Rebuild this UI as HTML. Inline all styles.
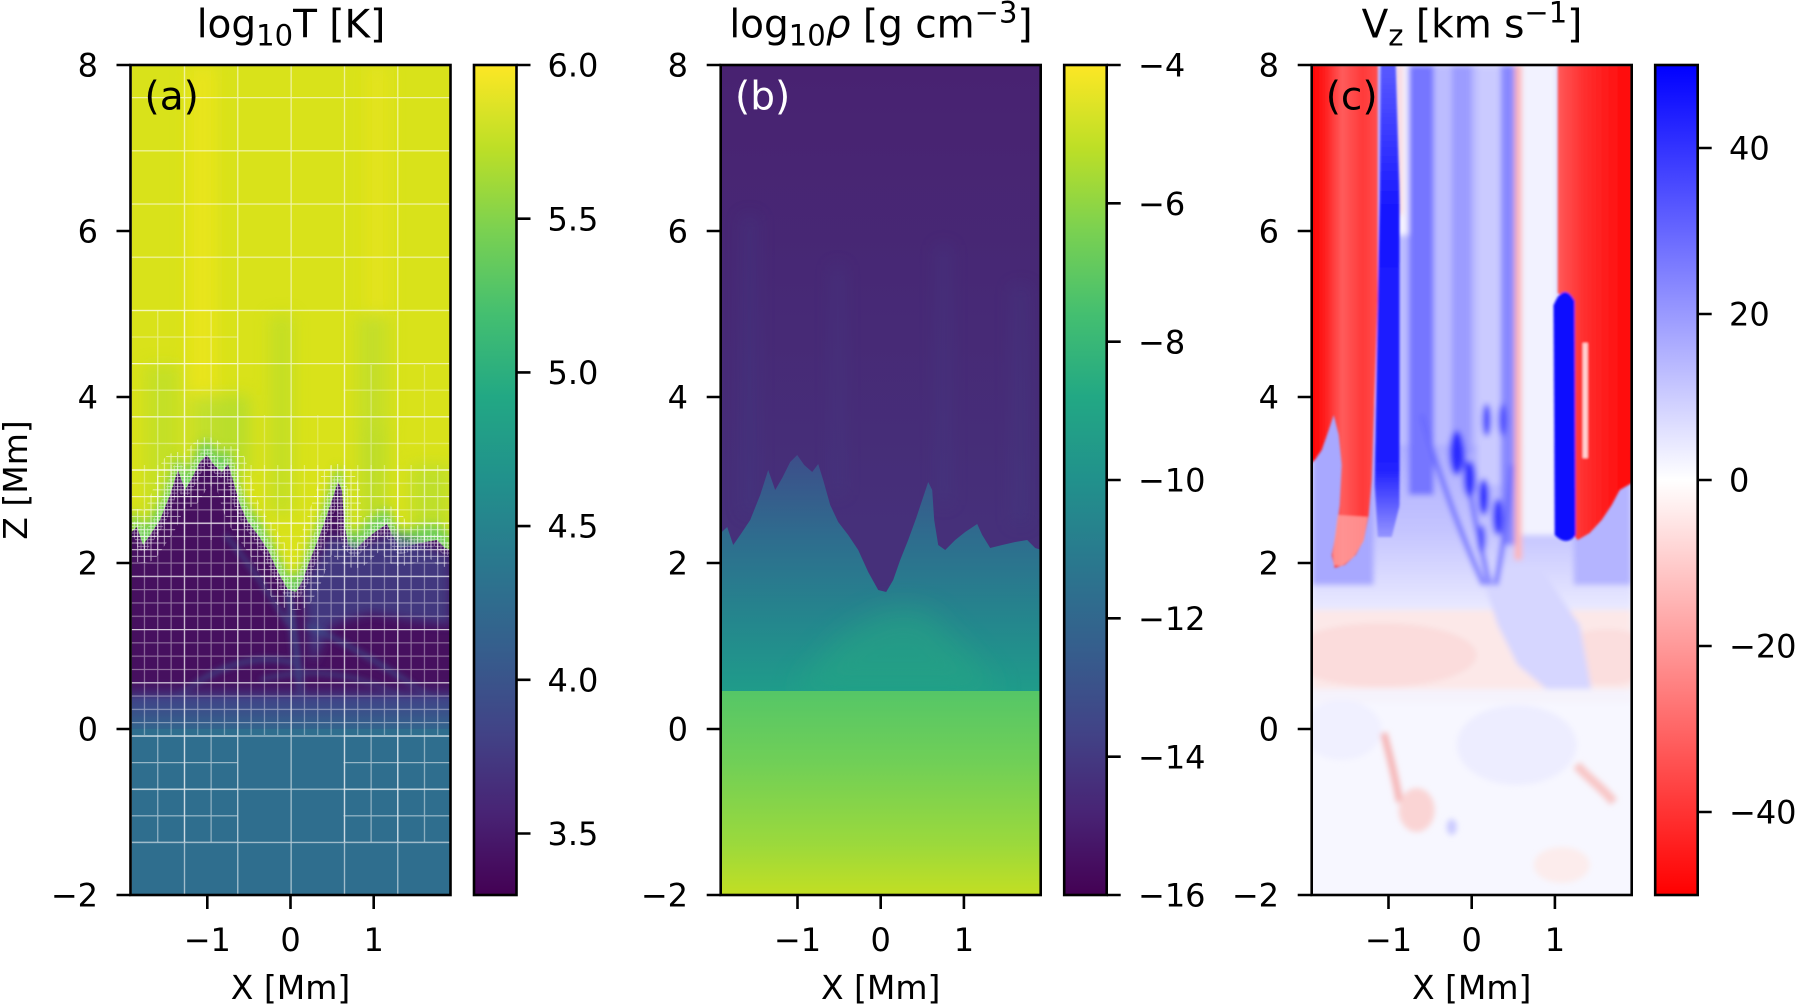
<!DOCTYPE html>
<html><head><meta charset="utf-8"><style>
html,body{margin:0;padding:0;background:#fff;}
svg{display:block;}
text{font-family:"DejaVu Sans","Liberation Sans",sans-serif;fill:#000;}
</style></head><body>
<svg width="1796" height="1006" viewBox="0 0 1796 1006" xmlns="http://www.w3.org/2000/svg">
<defs>
 <clipPath id="clip"><rect x="0" y="0" width="320" height="830"/></clipPath>
 <linearGradient id="vir" x1="0" y1="0" x2="0" y2="1">
  <stop offset="0" stop-color="#fde725"/><stop offset="0.1" stop-color="#bddf26"/>
  <stop offset="0.2" stop-color="#7ad151"/><stop offset="0.3" stop-color="#44bf70"/>
  <stop offset="0.4" stop-color="#22a884"/><stop offset="0.5" stop-color="#21918c"/>
  <stop offset="0.6" stop-color="#2a788e"/><stop offset="0.7" stop-color="#355f8d"/>
  <stop offset="0.8" stop-color="#414487"/><stop offset="0.9" stop-color="#482475"/>
  <stop offset="1" stop-color="#440154"/>
 </linearGradient>
 <linearGradient id="bwr" x1="0" y1="0" x2="0" y2="1">
  <stop offset="0" stop-color="#0000ff"/><stop offset="0.5" stop-color="#ffffff"/><stop offset="1" stop-color="#ff0000"/>
 </linearGradient>
 <linearGradient id="aBand" gradientUnits="userSpaceOnUse" x1="0" y1="612" x2="0" y2="668">
  <stop offset="0" stop-color="#46105f" stop-opacity="0"/><stop offset="0.4" stop-color="#404387"/><stop offset="1" stop-color="#30698e"/>
 </linearGradient>
 <linearGradient id="bTop" gradientUnits="userSpaceOnUse" x1="0" y1="0" x2="0" y2="470">
  <stop offset="0" stop-color="#482271"/><stop offset="1" stop-color="#46307a"/>
 </linearGradient>
 <linearGradient id="bMid" gradientUnits="userSpaceOnUse" x1="0" y1="390" x2="0" y2="630">
  <stop offset="0" stop-color="#3d4e8a"/><stop offset="0.35" stop-color="#2e6d8e"/>
  <stop offset="0.7" stop-color="#24878d"/><stop offset="1" stop-color="#1f9d8a"/>
 </linearGradient>
 <linearGradient id="bLow" gradientUnits="userSpaceOnUse" x1="0" y1="626" x2="0" y2="830">
  <stop offset="0" stop-color="#55c667"/><stop offset="0.35" stop-color="#70cf57"/>
  <stop offset="0.75" stop-color="#9bd93c"/><stop offset="1" stop-color="#c2df23"/>
 </linearGradient>
 <linearGradient id="cFade" gradientUnits="userSpaceOnUse" x1="0" y1="380" x2="0" y2="550">
  <stop offset="0" stop-color="#aeaeff"/><stop offset="0.5" stop-color="#c4c4ff"/><stop offset="1" stop-color="#ececff"/>
 </linearGradient>
 <linearGradient id="cRedL" gradientUnits="userSpaceOnUse" x1="0" y1="0" x2="68" y2="0">
  <stop offset="0" stop-color="#ff0000"/><stop offset="0.2" stop-color="#ff2020"/>
  <stop offset="0.45" stop-color="#ff5c5c"/><stop offset="0.75" stop-color="#ff3a3a"/><stop offset="1" stop-color="#ff5050"/>
 </linearGradient>
 <linearGradient id="cRedR" gradientUnits="userSpaceOnUse" x1="246" y1="0" x2="320" y2="0">
  <stop offset="0" stop-color="#ff5a5a"/><stop offset="0.35" stop-color="#ff3030"/><stop offset="1" stop-color="#ff0505"/>
 </linearGradient>
 <linearGradient id="cBlue" gradientUnits="userSpaceOnUse" x1="0" y1="0" x2="0" y2="475">
  <stop offset="0" stop-color="#5a5aff"/><stop offset="0.3" stop-color="#1818ff"/>
  <stop offset="0.85" stop-color="#2020ff"/><stop offset="1" stop-color="#9a9aff"/>
 </linearGradient>
 <filter id="b1" x="-10%" y="-10%" width="120%" height="120%"><feGaussianBlur stdDeviation="1"/></filter>
 <filter id="b3" x="-10%" y="-10%" width="120%" height="120%"><feGaussianBlur stdDeviation="3"/></filter>
 <filter id="b5" x="-20%" y="-20%" width="140%" height="140%"><feGaussianBlur stdDeviation="5"/></filter>
 <filter id="b8" x="-30%" y="-30%" width="160%" height="160%"><feGaussianBlur stdDeviation="8"/></filter>
 <filter id="b14" x="-50%" y="-50%" width="200%" height="200%"><feGaussianBlur stdDeviation="14"/></filter>
 <pattern id="g1" patternUnits="userSpaceOnUse" x="0" y="32" width="53.333" height="53.2">
  <path d="M0,0.6H53.4M0.6,0V53.3" stroke="#fff" stroke-width="1.3" fill="none"/></pattern>
 <pattern id="g2" patternUnits="userSpaceOnUse" x="0" y="5.4" width="26.667" height="26.6">
  <path d="M0,0.6H26.7M0.6,0V26.7" stroke="#fff" stroke-width="1.2" fill="none"/></pattern>
 <pattern id="g4" patternUnits="userSpaceOnUse" x="0" y="5.4" width="13.333" height="13.3">
  <path d="M0,0.6H13.4M0.6,0V13.4" stroke="#fff" stroke-width="1.1" fill="none"/></pattern>
 <pattern id="g8" patternUnits="userSpaceOnUse" x="0" y="5.4" width="6.667" height="6.65">
  <path d="M0,0.5H6.7M0.5,0V6.7" stroke="#fff" stroke-width="1" fill="none"/></pattern>
 <pattern id="g16" patternUnits="userSpaceOnUse" x="0" y="5.4" width="3.333" height="3.325">
  <path d="M0,0.5H3.4M0.5,0V3.4" stroke="#fff" stroke-width="0.9" fill="none"/></pattern>
</defs>

<!-- ================= Panel (a) ================= -->
<g transform="translate(130.5,65)"><g clip-path="url(#clip)">
 <rect width="320" height="830" fill="#d9e21a"/>
 <g filter="url(#b8)">
  <rect x="58" y="0" width="28" height="420" fill="#f0e51d" opacity=".7"/>
  <rect x="236" y="0" width="22" height="360" fill="#ebe51c" opacity=".6"/>
  <rect x="140" y="250" width="22" height="200" fill="#a8db34" opacity=".45"/>
  <rect x="228" y="250" width="30" height="220" fill="#a0da39" opacity=".45"/>
  <rect x="15" y="300" width="35" height="170" fill="#b0dd2f" opacity=".5"/>
  <rect x="60" y="330" width="60" height="80" fill="#9ad93c" opacity=".5"/>
  <rect x="280" y="400" width="40" height="80" fill="#a5db36" opacity=".5"/>
 </g>
 <polygon transform="translate(0,-16)" filter="url(#b5)" fill="#6ece58" points="0,468 6.5,462 12.5,480 19.5,470 29.5,455 39.5,430 47.5,405 54.5,425 61.5,413 69.5,397 76.5,390 83.5,400 91.5,407 97.5,399 102.5,415 109.5,440 117.5,457 127.5,470 137.5,485 147.5,507 157.5,525 165.5,527 172.5,515 179.5,495 187.5,475 195.5,453 202.5,432 207.5,417 211.5,425 213.5,455 217.5,480 224.5,485 234.5,475 244.5,467 256.5,459 261.5,470 269.5,483 281.5,480 294.5,477 306.5,475 314.5,483 320.5,485 320.5,640 0,640"/>
 <polygon fill="#46105f" points="0,468 6.5,462 12.5,480 19.5,470 29.5,455 39.5,430 47.5,405 54.5,425 61.5,413 69.5,397 76.5,390 83.5,400 91.5,407 97.5,399 102.5,415 109.5,440 117.5,457 127.5,470 137.5,485 147.5,507 157.5,525 165.5,527 172.5,515 179.5,495 187.5,475 195.5,453 202.5,432 207.5,417 211.5,425 213.5,455 217.5,480 224.5,485 234.5,475 244.5,467 256.5,459 261.5,470 269.5,483 281.5,480 294.5,477 306.5,475 314.5,483 320.5,485 320.5,640 0,640"/>
 <polygon filter="url(#b5)" fill="#433f85" opacity=".85" points="172,522 200,470 230,482 260,468 320,490 320,560 280,555 240,548 200,560 182,600"/>
 <g filter="url(#b3)" fill="none" stroke="#3c508b" opacity=".7">
  <path d="M158,525 C163,570 168,600 172,650" stroke-width="8"/>
  <path d="M40,640 C80,600 130,585 170,600" stroke-width="5"/>
  <path d="M176,560 C220,580 262,605 310,640" stroke-width="5"/>
  <path d="M95,470 C120,500 140,530 158,560" stroke-width="4"/>
  <path d="M130,615 C180,600 230,610 270,632" stroke-width="4"/>
 </g>
 <rect x="0" y="612" width="320" height="56" fill="url(#aBand)"/>
 <rect x="0" y="664" width="320" height="166" fill="#2f6e8e"/>
 <rect width="320" height="830" fill="url(#g1)" opacity=".6"/>
 <rect x="0" y="245" width="107" height="230" fill="url(#g2)" opacity=".4"/>
 <rect x="213" y="300" width="107" height="175" fill="url(#g2)" opacity=".35"/>
 <rect x="107" y="350" width="106" height="125" fill="url(#g2)" opacity=".3"/>
 <rect x="0" y="400" width="320" height="270" fill="url(#g4)" opacity=".42"/>
 <rect x="0" y="670" width="107" height="107" fill="url(#g2)" opacity=".5"/>
 <rect x="213" y="670" width="107" height="107" fill="url(#g2)" opacity=".5"/>
 <polyline fill="none" stroke="url(#g8)" stroke-width="36" stroke-linejoin="round" opacity=".6" points="0,468 6.5,462 12.5,480 19.5,470 29.5,455 39.5,430 47.5,405 54.5,425 61.5,413 69.5,397 76.5,390 83.5,400 91.5,407 97.5,399 102.5,415 109.5,440 117.5,457 127.5,470 137.5,485 147.5,507 157.5,525 165.5,527 172.5,515 179.5,495 187.5,475 195.5,453 202.5,432 207.5,417 211.5,425 213.5,455 217.5,480 224.5,485 234.5,475 244.5,467 256.5,459 261.5,470 269.5,483 281.5,480 294.5,477 306.5,475 314.5,483 320.5,485"/>
 <polyline fill="none" stroke="url(#g16)" stroke-width="12" stroke-linejoin="round" opacity=".45" points="0,468 6.5,462 12.5,480 19.5,470 29.5,455 39.5,430 47.5,405 54.5,425 61.5,413 69.5,397 76.5,390 83.5,400 91.5,407 97.5,399 102.5,415 109.5,440 117.5,457 127.5,470 137.5,485 147.5,507 157.5,525 165.5,527 172.5,515 179.5,495 187.5,475 195.5,453 202.5,432 207.5,417 211.5,425 213.5,455 217.5,480 224.5,485 234.5,475 244.5,467 256.5,459 261.5,470 269.5,483 281.5,480 294.5,477 306.5,475 314.5,483 320.5,485"/>
</g></g>

<!-- ================= Panel (b) ================= -->
<g transform="translate(720.7,65)"><g clip-path="url(#clip)">
 <rect width="320" height="830" fill="url(#bTop)"/>
 <g filter="url(#b8)" opacity=".3">
  <rect x="20" y="150" width="18" height="300" fill="#433e84"/>
  <rect x="110" y="200" width="14" height="230" fill="#433e84"/>
  <rect x="215" y="180" width="16" height="260" fill="#433e84"/>
  <rect x="290" y="220" width="20" height="240" fill="#433e84"/>
 </g>
 <polygon fill="url(#bMid)" points="0,468 6.5,462 12.5,480 19.5,470 29.5,455 39.5,430 47.5,405 54.5,425 61.5,413 69.5,397 76.5,390 83.5,400 91.5,407 97.5,399 102.5,415 109.5,440 117.5,457 127.5,470 137.5,485 147.5,507 157.5,525 165.5,527 172.5,515 179.5,495 187.5,475 195.5,453 202.5,432 207.5,417 211.5,425 213.5,455 217.5,480 224.5,485 234.5,475 244.5,467 256.5,459 261.5,470 269.5,483 281.5,480 294.5,477 306.5,475 314.5,483 320.5,485 320.5,632 0,632"/>
 <polygon filter="url(#b14)" fill="#27ab81" opacity=".45" points="70,628 120,570 165,545 205,545 250,590 280,628"/>
 <rect x="0" y="626" width="320" height="204" fill="url(#bLow)"/>
</g></g>

<!-- ================= Panel (c) ================= -->
<g transform="translate(1311.7,65)"><g clip-path="url(#clip)">
 <rect width="320" height="830" fill="#f7f7ff"/>
 <g filter="url(#b3)">
  <rect x="60" y="0" width="190" height="420" fill="#bcbcff"/>
  <rect x="0" y="380" width="320" height="170" fill="url(#cFade)"/>
  <rect x="0" y="545" width="320" height="82" fill="#fce8e8"/>
  <ellipse cx="70" cy="590" rx="95" ry="32" fill="#fbdcdc"/>
  <ellipse cx="295" cy="592" rx="50" ry="28" fill="#fbdede"/>
  <polygon fill="#d6d6ff" points="168,505 232,508 268,560 280,626 242,630 206,600 186,560"/>
  <rect x="0" y="624" width="320" height="14" fill="#f5f3fc"/>
  <ellipse cx="30" cy="665" rx="40" ry="30" fill="#f0f0ff"/>
  <ellipse cx="205" cy="680" rx="60" ry="40" fill="#ededff"/>
  <path d="M72,668 C78,690 84,715 88,737" stroke="#f6b4b4" stroke-width="7" fill="none"/>
  <ellipse cx="105" cy="745" rx="18" ry="22" fill="#fad4d4"/>
  <ellipse cx="140" cy="762" rx="5" ry="8" fill="#cacaff"/>
  <path d="M265,700 C275,712 290,722 302,737" stroke="#f8c6c6" stroke-width="9" fill="none"/>
  <ellipse cx="250" cy="800" rx="28" ry="18" fill="#fcecec"/>
  <rect x="83" y="0" width="14" height="170" fill="#f4f2ff"/>
  <rect x="86" y="0" width="4" height="150" fill="#ffc8c8"/>
  <rect x="97" y="0" width="25" height="430" fill="#7676ff"/>
  <rect x="140" y="0" width="20" height="390" fill="#9c9cff"/>
  <rect x="166" y="0" width="23" height="420" fill="#cacaff"/>
  <rect x="189" y="0" width="14" height="480" fill="#8888ff"/>
  <rect x="203" y="0" width="7" height="495" fill="#ffb4b4"/>
  <rect x="210" y="0" width="36" height="470" fill="#f2f2ff"/>
  <g fill="none" stroke="#6a6aff" stroke-width="5">
   <path d="M110,350 C130,420 150,470 172,520"/>
   <path d="M150,380 C160,440 168,480 178,520"/>
   <path d="M200,400 C196,450 190,490 184,520"/>
  </g>
  <g filter="url(#b1)">
  <ellipse cx="145" cy="388" rx="7" ry="22" fill="#2a2aff"/>
  <ellipse cx="158" cy="414" rx="6" ry="18" fill="#3030ff"/>
  <ellipse cx="175" cy="355" rx="4" ry="16" fill="#4040ff"/>
  <ellipse cx="191" cy="355" rx="4" ry="16" fill="#4848ff"/>
  <ellipse cx="172" cy="432" rx="5" ry="18" fill="#2a2aff"/>
  <ellipse cx="186" cy="452" rx="5" ry="18" fill="#3434ff"/>
  <ellipse cx="170" cy="474" rx="4" ry="14" fill="#5050ff"/>
  </g>
  <rect x="0" y="340" width="62" height="180" fill="#a8a8ff"/>
  <rect x="262" y="400" width="58" height="120" fill="#b4b4ff"/>
 </g>
 <g filter="url(#b1)">
  <polygon fill="url(#cBlue)" points="69,0 84,0 88,135 88,300 88,440 80,472 66,472 63,420 66,235 68,135"/>
  <polygon fill="url(#cRedL)" points="0,0 66,0 66,235 60,415 57,450 52,475 44,490 33,500 23,503 20,490 24,470 28,440 30,400 27,370 22,350 17,365 10,385 3,395 0,398"/>
  <polygon fill="#ffa0a0" opacity=".8" points="26,450 56,452 52,476 42,492 30,501 22,500 21,488"/>
  <polygon fill="url(#cRedR)" points="246,0 320,0 320,418 308,425 300,440 290,455 278,468 266,475 262,470 262,240 246,228"/>
  <rect x="271" y="278" width="5" height="115" fill="#ffd0d0"/>
  <path d="M242,240 Q252,216 263,236 L264,470 Q255,482 243,470 Z" fill="#1010ff"/>
 </g>
</g></g>

<!-- ================= Frames ================= -->
<g fill="none" stroke="#000" stroke-width="2.6">
 <rect x="130.5" y="65" width="320" height="830"/>
 <rect x="720.7" y="65" width="320" height="830"/>
 <rect x="1311.7" y="65" width="320" height="830"/>
 <rect x="474" y="65" width="42.5" height="830" fill="url(#vir)"/>
 <rect x="1064.2" y="65" width="42.5" height="830" fill="url(#vir)"/>
 <rect x="1655.2" y="65" width="42.5" height="830" fill="url(#bwr)"/>
</g>

<!-- ticks -->
<g stroke="#000" stroke-width="2.6">
 <path d="M116.5,65H130.5M116.5,231H130.5M116.5,397H130.5M116.5,563H130.5M116.5,729H130.5M116.5,895H130.5"/>
 <path d="M706.7,65H720.7M706.7,231H720.7M706.7,397H720.7M706.7,563H720.7M706.7,729H720.7M706.7,895H720.7"/>
 <path d="M1297.7,65H1311.7M1297.7,231H1311.7M1297.7,397H1311.7M1297.7,563H1311.7M1297.7,729H1311.7M1297.7,895H1311.7"/>
 <path d="M207.3,895V909M290.5,895V909M373.7,895V909"/>
 <path d="M797.5,895V909M880.7,895V909M963.9,895V909"/>
 <path d="M1388.5,895V909M1471.7,895V909M1554.9,895V909"/>
 <path d="M516.5,65H530.5M516.5,218.7H530.5M516.5,372.4H530.5M516.5,526.1H530.5M516.5,679.8H530.5M516.5,833.5H530.5"/>
 <path d="M1106.7,65H1120.7M1106.7,203.3H1120.7M1106.7,341.7H1120.7M1106.7,480H1120.7M1106.7,618.3H1120.7M1106.7,756.7H1120.7M1106.7,895H1120.7"/>
 <path d="M1697.7,148H1711.7M1697.7,314H1711.7M1697.7,480H1711.7M1697.7,646H1711.7M1697.7,812H1711.7"/>
</g>

<!-- tick labels -->
<g font-size="32" text-anchor="end">
 <text x="98" y="76.6">8</text><text x="98" y="242.6">6</text><text x="98" y="408.6">4</text>
 <text x="98" y="574.6">2</text><text x="98" y="740.6">0</text><text x="98" y="906.6">−2</text>
 <text x="688" y="76.6">8</text><text x="688" y="242.6">6</text><text x="688" y="408.6">4</text>
 <text x="688" y="574.6">2</text><text x="688" y="740.6">0</text><text x="688" y="906.6">−2</text>
 <text x="1279" y="76.6">8</text><text x="1279" y="242.6">6</text><text x="1279" y="408.6">4</text>
 <text x="1279" y="574.6">2</text><text x="1279" y="740.6">0</text><text x="1279" y="906.6">−2</text>
</g>
<g font-size="32" text-anchor="middle">
 <text x="207.3" y="951">−1</text><text x="290.5" y="951">0</text><text x="373.7" y="951">1</text>
 <text x="797.5" y="951">−1</text><text x="880.7" y="951">0</text><text x="963.9" y="951">1</text>
 <text x="1388.5" y="951">−1</text><text x="1471.7" y="951">0</text><text x="1554.9" y="951">1</text>
</g>
<g font-size="32" text-anchor="start">
 <text x="547.5" y="76.6">6.0</text><text x="547.5" y="230.3">5.5</text><text x="547.5" y="384">5.0</text>
 <text x="547.5" y="537.7">4.5</text><text x="547.5" y="691.4">4.0</text><text x="547.5" y="845.1">3.5</text>
 <text x="1138" y="76.6">−4</text><text x="1138" y="214.9">−6</text><text x="1138" y="353.3">−8</text>
 <text x="1138" y="491.6">−10</text><text x="1138" y="629.9">−12</text><text x="1138" y="768.3">−14</text>
 <text x="1138" y="906.6">−16</text>
 <text x="1729" y="159.6">40</text><text x="1729" y="325.6">20</text><text x="1729" y="491.6">0</text>
 <text x="1729" y="657.6">−20</text><text x="1729" y="823.6">−40</text>
</g>

<!-- axis labels -->
<g font-size="33" text-anchor="middle">
 <text x="290.5" y="999">X [Mm]</text>
 <text x="880.7" y="999">X [Mm]</text>
 <text x="1471.7" y="999">X [Mm]</text>
 <text transform="translate(27,480) rotate(-90)">Z [Mm]</text>
</g>

<!-- titles -->
<g font-size="39" text-anchor="middle">
 <text x="291" y="37.5">log<tspan font-size="29" dy="8">10</tspan><tspan dy="-8">T [K]</tspan></text>
 <text x="881" y="37.5">log<tspan font-size="29" dy="8">10</tspan><tspan dy="-8" font-style="italic">ρ</tspan> [g cm<tspan font-size="29" dy="-15">−3</tspan><tspan dy="15">]</tspan></text>
 <text x="1472" y="37.5">V<tspan font-size="29" dy="8">z</tspan><tspan dy="-8"> [km s</tspan><tspan font-size="29" dy="-15">−1</tspan><tspan dy="15">]</tspan></text>
</g>

<!-- panel letters -->
<g font-size="39">
 <text x="144.5" y="109.5">(a)</text>
 <text x="735" y="109.5" style="fill:#fff">(b)</text>
 <text x="1325.7" y="109.5">(c)</text>
</g>
</svg>
</body></html>
